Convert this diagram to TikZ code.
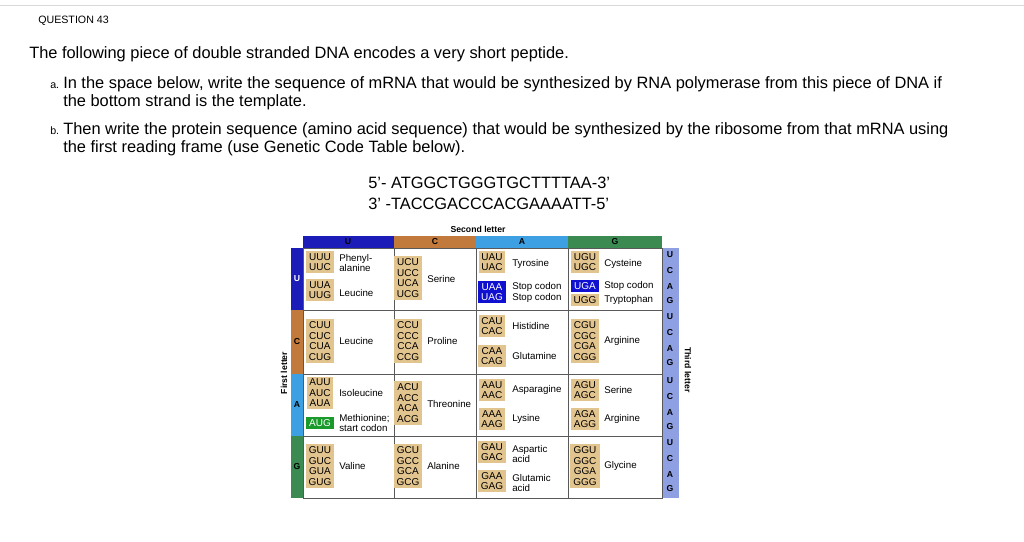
\documentclass[tikz,border=0pt]{standalone}
\usepackage{fontspec}
\setmainfont{Liberation Sans}
\begin{document}
\begin{tikzpicture}[x=0.75pt,y=-0.75pt,
  cd/.style={fill=tanc,font=\fontsize{7.5}{7.9}\selectfont,inner xsep=2.2pt,inner ysep=1.8pt,align=center},
  lb/.style={anchor=west,font=\fontsize{7.3}{7.9}\selectfont,inner sep=0,align=left},
  tx/.style={anchor=base west,font=\fontsize{12.3}{14}\selectfont,inner sep=0},
  sm/.style={anchor=base west,font=\fontsize{8}{9}\selectfont,inner sep=0},
  th/.style={font=\bfseries\fontsize{6.5}{7}\selectfont,inner sep=0},
  grid/.style={draw=gray!70!black,line width=0.6pt}]
\definecolor{tanc}{HTML}{E2C48F}
\definecolor{cu}{HTML}{1C1CB8}
\definecolor{cc}{HTML}{C27A3C}
\definecolor{ca}{HTML}{3DA0E2}
\definecolor{cg}{HTML}{3A8A52}
\definecolor{c3}{HTML}{8E9FE2}
\definecolor{stopb}{HTML}{1010D0}
\definecolor{startg}{HTML}{1A9A2A}
\useasboundingbox (0,0) rectangle (1024,542);
\fill[white] (0,0) rectangle (1024,542);
\draw[gray!30] (0,5) -- (1024,5);
\node[sm] (q) at (38,24) {QUESTION 43};
\node[tx] (t1) at (29,59) {The following piece of double stranded DNA encodes a very short peptide.};
\node[sm] (la) at (50,89) {a.};
\node[tx] (t2) at (63,89) {In the space below, write the sequence of mRNA that would be synthesized by RNA polymerase from this piece of DNA if};
\node[tx] (t3) at (63,106) {the bottom strand is the template.};
\node[sm] (lb) at (50,134) {b.};
\node[tx] (t4) at (63,134) {Then write the protein sequence (amino acid sequence) that would be synthesized by the ribosome from that mRNA using};
\node[tx] (t5) at (63,152) {the first reading frame (use Genetic Code Table below).};
\node[tx] (d1) at (368,188) {5'- ATGGCTGGGTGCTTTTAA-3'};
\node[tx] (d2) at (368,209) {3' -TACCGACCCACGAAAATT-5'};
% header
\node[th] (sl) at (478,229) {Second letter};
\fill[cu] (303,236) rectangle (394,248);
\fill[cc] (394,236) rectangle (476,248);
\fill[ca] (476,236) rectangle (568,248);
\fill[cg] (568,236) rectangle (662,248);
\node[th] (hu) at (348,242) {U};
\node[th] (hc) at (435,242) {C};
\node[th] (ha) at (522,242) {A};
\node[th] (hg) at (615,242) {G};
\fill[cu] (291,248) rectangle (303,310);
\fill[cc] (291,310) rectangle (303,374);
\fill[ca] (291,374) rectangle (303,436);
\fill[cg] (291,436) rectangle (303,498);
\node[th,white] (fu) at (297,279) {U};
\node[th] (fc) at (297,342) {C};
\node[th] (fa) at (297,405) {A};
\node[th] (fg) at (297,467) {G};
\fill[c3] (662,248) rectangle (679,498);
\foreach \r/\t in {248/u,310/c,374/a,436/g}{
  \node[th] (t\t1) at (670,\r+7) {U};
  \node[th] (t\t2) at (670,\r+23) {C};
  \node[th] (t\t3) at (670,\r+39) {A};
  \node[th] (t\t4) at (670,\r+53) {G};
}
\node[th,rotate=90] (fl) at (284,373) {First letter};
\node[th,rotate=-90] (tl) at (688,370) {Third letter};
\draw[grid] (303,248) rectangle (662,498);
\foreach \x in {394,476,568} \draw[grid] (\x,248) -- (\x,498);
\foreach \y in {310,374,436} \draw[grid] (303,\y) -- (662,\y);
% row U
\node[cd] (uu1) at (320,262) {UUU\\UUC};
\node[cd] (uu2) at (320,290) {UUA\\UUG};
\node[lb] (luu1) at (339,263) {Phenyl-\\alanine};
\node[lb] (luu2) at (339,293) {Leucine};
\node[cd] (uc) at (408,278) {UCU\\UCC\\UCA\\UCG};
\node[lb] (luc) at (427,279) {Serine};
\node[cd] (ua1) at (492,262) {UAU\\UAC};
\node[lb] (lua1) at (512,264) {Tyrosine};
\node[cd,fill=stopb,text=white] (ua2) at (492,292) {UAA\\UAG};
\node[lb] (lua2) at (512,287) {Stop codon};
\node[lb] (lua3) at (512,298) {Stop codon};
\node[cd] (ug1) at (585,262) {UGU\\UGC};
\node[lb] (lug1) at (604,264) {Cysteine};
\node[cd,fill=stopb,text=white] (ug2) at (585,286) {UGA};
\node[cd] (ug3) at (585,300) {UGG};
\node[lb] (lug2) at (604,286) {Stop codon};
\node[lb] (lug3) at (604,300) {Tryptophan};
% row C
\node[cd] (cu) at (320,341) {CUU\\CUC\\CUA\\CUG};
\node[lb] (lcu) at (339,341) {Leucine};
\node[cd] (ccx) at (408,341) {CCU\\CCC\\CCA\\CCG};
\node[lb] (lcc) at (427,341) {Proline};
\node[cd] (ca1) at (492,326) {CAU\\CAC};
\node[lb] (lca1) at (512,326) {Histidine};
\node[cd] (ca2) at (492,356) {CAA\\CAG};
\node[lb] (lca2) at (512,356) {Glutamine};
\node[cd] (cgx) at (585,341) {CGU\\CGC\\CGA\\CGG};
\node[lb] (lcg) at (604,341) {Arginine};
% row A
\node[cd] (au1) at (320,393) {AUU\\AUC\\AUA};
\node[lb] (lau1) at (339,393) {Isoleucine};
\node[cd,fill=startg,text=white] (au2) at (320,423) {AUG};
\node[lb] (lau2) at (339,423) {Methionine;\\start codon};
\node[cd] (ac) at (408,403) {ACU\\ACC\\ACA\\ACG};
\node[lb] (lac) at (427,404) {Threonine};
\node[cd] (aa1) at (492,390) {AAU\\AAC};
\node[lb] (laa1) at (512,390) {Asparagine};
\node[cd] (aa2) at (492,419) {AAA\\AAG};
\node[lb] (laa2) at (512,419) {Lysine};
\node[cd] (ag1) at (585,390) {AGU\\AGC};
\node[lb] (lag1) at (604,390) {Serine};
\node[cd] (ag2) at (585,419) {AGA\\AGG};
\node[lb] (lag2) at (604,419) {Arginine};
% row G
\node[cd] (gu) at (320,466) {GUU\\GUC\\GUA\\GUG};
\node[lb] (lgu) at (339,466) {Valine};
\node[cd] (gc) at (408,466) {GCU\\GCC\\GCA\\GCG};
\node[lb] (lgc) at (427,466) {Alanine};
\node[cd] (ga1) at (492,452) {GAU\\GAC};
\node[lb] (lga1) at (512,454) {Aspartic\\acid};
\node[cd] (ga2) at (492,481) {GAA\\GAG};
\node[lb] (lga2) at (512,483) {Glutamic\\acid};
\node[cd] (ggx) at (585,466) {GGU\\GGC\\GGA\\GGG};
\node[lb] (lgg) at (604,466) {Glycine};
\end{tikzpicture}
\end{document}
